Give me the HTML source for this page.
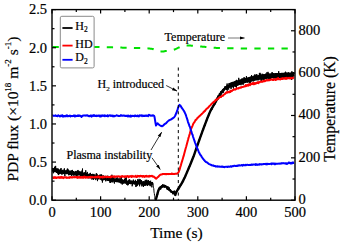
<!DOCTYPE html>
<html><head><meta charset="utf-8">
<style>
html,body{margin:0;padding:0;background:#fff;}
body{width:342px;height:243px;overflow:hidden;}
svg{display:block;}
text{font-family:"Liberation Serif",serif;fill:#000;stroke:#000;stroke-width:0.2px;}
.tk{font-size:14.5px;}
.ax{font-size:15.5px;}
.an{font-size:12px;}
.lg{font-size:12px;}
</style></head>
<body>
<svg width="342" height="243" viewBox="0 0 342 243">
<rect x="0" y="0" width="342" height="243" fill="#fff"/>
<defs>
<marker id="ah" viewBox="0 0 10 10" refX="9" refY="5" markerWidth="5.5" markerHeight="5.5" orient="auto-start-reverse" markerUnits="userSpaceOnUse">
<path d="M0,2.2 L10,5 L0,7.8 Z" fill="#000"/>
</marker>
<clipPath id="pc"><rect x="52.0" y="9.6" width="243.0" height="190.6"/></clipPath>
</defs>
<g clip-path="url(#pc)">
<polyline points="52.50,47.10 53.50,47.10 54.50,47.10 55.50,47.09 56.50,47.09 57.50,47.09 58.50,47.09 59.50,47.08 60.50,47.08 61.50,47.08 62.50,47.08 63.50,47.07 64.50,47.07 65.50,47.07 66.50,47.07 67.50,47.06 68.50,47.06 69.50,47.06 70.50,47.06 71.50,47.06 72.50,47.05 73.50,47.05 74.50,47.05 75.50,47.05 76.50,47.04 77.50,47.04 78.50,47.04 79.50,47.04 80.50,47.03 81.50,47.03 82.50,47.03 83.50,47.03 84.50,47.02 85.50,47.02 86.50,47.02 87.50,47.02 88.50,47.02 89.50,47.01 90.50,47.01 91.50,47.01 92.50,47.01 93.50,47.00 94.50,47.00 95.50,47.01 96.50,47.03 97.50,47.05 98.50,47.07 99.50,47.09 100.50,47.11 101.50,47.13 102.50,47.15 103.50,47.17 104.50,47.19 105.50,47.21 106.50,47.23 107.50,47.25 108.50,47.27 109.50,47.29 110.50,47.31 111.50,47.34 112.50,47.37 113.50,47.39 114.50,47.42 115.50,47.45 116.50,47.47 117.50,47.50 118.50,47.53 119.50,47.55 120.50,47.58 121.50,47.61 122.50,47.63 123.50,47.66 124.50,47.69 125.50,47.71 126.50,47.73 127.50,47.75 128.50,47.77 129.50,47.79 130.50,47.81 131.50,47.83 132.50,47.85 133.50,47.87 134.50,47.89 135.50,47.91 136.50,47.93 137.50,47.95 138.50,47.97 139.50,47.99 140.50,48.01 141.50,48.02 142.50,48.04 143.50,48.06 144.50,48.08 145.50,48.09 146.50,48.16 147.50,48.29 148.50,48.42 149.50,48.55 150.50,48.68 151.50,48.81 152.50,48.94 153.50,49.23 154.50,49.70 155.50,50.17 156.50,50.60 157.50,51.00 158.50,51.40 159.50,51.59 160.50,51.56 161.50,51.54 162.50,51.51 163.50,51.41 164.50,51.23 165.50,51.05 166.50,50.89 167.50,50.87 168.50,50.84 169.50,50.81 170.50,50.68 171.50,50.44 172.50,50.19 173.50,49.91 174.50,49.48 175.50,49.05 176.50,48.62 177.50,48.16 178.50,47.69 179.50,47.22 180.50,46.77 181.50,46.46 182.50,46.16 183.50,45.85 184.50,45.64 185.50,45.52 186.50,45.40 187.50,45.45 188.50,45.50 189.50,45.55 190.50,45.60 191.50,45.65 192.50,45.70 193.50,45.79 194.50,45.88 195.50,45.97 196.50,46.07 197.50,46.16 198.50,46.26 199.50,46.35 200.50,46.45 201.50,46.55 202.50,46.65 203.50,46.75 204.50,46.85 205.50,46.95 206.50,47.05 207.50,47.15 208.50,47.25 209.50,47.35 210.50,47.45 211.50,47.55 212.50,47.65 213.50,47.75 214.50,47.82 215.50,47.85 216.50,47.88 217.50,47.92 218.50,47.95 219.50,47.98 220.50,48.01 221.50,48.03 222.50,48.05 223.50,48.07 224.50,48.09 225.50,48.11 226.50,48.13 227.50,48.15 228.50,48.17 229.50,48.19 230.50,48.21 231.50,48.23 232.50,48.25 233.50,48.27 234.50,48.29 235.50,48.31 236.50,48.33 237.50,48.35 238.50,48.37 239.50,48.39 240.50,48.40 241.50,48.41 242.50,48.41 243.50,48.42 244.50,48.42 245.50,48.43 246.50,48.43 247.50,48.44 248.50,48.44 249.50,48.45 250.50,48.45 251.50,48.46 252.50,48.46 253.50,48.47 254.50,48.47 255.50,48.48 256.50,48.48 257.50,48.49 258.50,48.49 259.50,48.50 260.50,48.50 261.50,48.50 262.50,48.50 263.50,48.50 264.50,48.50 265.50,48.50 266.50,48.50 267.50,48.50 268.50,48.50 269.50,48.50 270.50,48.50 271.50,48.50 272.50,48.50 273.50,48.50 274.50,48.50 275.50,48.50 276.50,48.50 277.50,48.50 278.50,48.50 279.50,48.50 280.50,48.50 281.50,48.50 282.50,48.50 283.50,48.50 284.50,48.50 285.50,48.50 286.50,48.50 287.50,48.50 288.50,48.50 289.50,48.50 290.50,48.50 291.50,48.50 292.50,48.50 293.50,48.50" fill="none" stroke="#00e000" stroke-width="2.0" stroke-linejoin="round" stroke-dasharray="6.3 7.27"/>
<polyline points="52.50,170.20 53.50,170.39 54.50,170.57 55.50,170.76 56.50,170.95 57.50,171.13 58.50,171.32 59.50,171.51 60.50,171.66 61.50,171.78 62.50,171.90 63.50,172.02 64.50,172.14 65.50,172.26 66.50,172.38 67.50,172.50 68.50,172.62 69.50,172.74 70.50,172.86 71.50,172.98 72.50,173.10 73.50,173.22 74.50,173.34 75.50,173.46 76.50,173.58 77.50,173.70 78.50,173.82 79.50,173.94 80.50,174.08 81.50,174.25 82.50,174.42 83.50,174.58 84.50,174.75 85.50,174.92 86.50,175.08 87.50,175.25 88.50,175.42 89.50,175.58 90.50,175.75 91.50,175.92 92.50,176.10 93.50,176.29 94.50,176.48 95.50,176.67 96.50,176.86 97.50,177.05 98.50,177.25 99.50,177.44 100.50,177.63 101.50,177.82 102.50,178.01 103.50,178.20 104.50,178.39 105.50,178.58 106.50,178.76 107.50,178.94 108.50,179.12 109.50,179.31 110.50,179.49 111.50,179.68 112.50,179.86 113.50,180.04 114.50,180.22 115.50,180.41 116.50,180.58 117.50,180.75 118.50,180.92 119.50,181.08 120.50,181.25 121.50,181.42 122.50,181.54 123.50,181.63 124.50,181.71 125.50,181.80 126.50,181.88 127.50,181.97 128.50,182.05 129.50,182.13 130.50,182.22 131.50,182.30 132.50,182.39 133.50,182.47 134.50,182.56 135.50,182.63 136.50,182.69 137.50,182.74 138.50,182.80 139.50,182.86 140.50,182.91 141.50,182.97 142.50,183.03 143.50,183.09 144.50,183.14 145.50,183.20 146.50,183.26 147.50,183.31 148.50,183.37" fill="none" stroke="#000000" stroke-width="3.2" stroke-linejoin="round" stroke-linecap="butt"/>
<polyline points="229.50,85.80 230.50,85.32 231.50,84.84 232.50,84.44 233.50,84.12 234.50,83.80 235.50,83.48 236.50,83.16 237.50,82.84 238.50,82.52 239.50,82.20 240.50,81.88 241.50,81.56 242.50,81.26 243.50,80.98 244.50,80.70 245.50,80.42 246.50,80.14 247.50,79.89 248.50,79.67 249.50,79.45 250.50,79.23 251.50,79.01 252.50,78.79 253.50,78.57 254.50,78.35 255.50,78.13 256.50,77.91 257.50,77.72 258.50,77.56 259.50,77.40 260.50,77.24 261.50,77.08 262.50,76.93 263.50,76.79 264.50,76.65 265.50,76.51 266.50,76.37 267.50,76.25 268.50,76.15 269.50,76.05 270.50,75.95 271.50,75.85 272.50,75.77 273.50,75.72 274.50,75.67 275.50,75.62 276.50,75.58 277.50,75.53 278.50,75.48 279.50,75.43 280.50,75.39 281.50,75.36 282.50,75.33 283.50,75.30 284.50,75.27 285.50,75.24 286.50,75.21 287.50,75.19 288.50,75.16 289.50,75.13 290.50,75.10 291.50,75.07 292.50,75.04 293.50,75.01" fill="none" stroke="#000000" stroke-width="5.0" stroke-linejoin="round" stroke-linecap="butt"/>
<polyline points="155.30,199.50 155.80,199.14 156.30,197.95 156.80,196.20 157.30,194.30 157.80,192.30 158.30,190.81 158.80,189.65 159.30,188.50 159.80,188.07 160.30,187.65 160.80,187.23 161.30,186.80 161.80,186.61 162.30,186.42 162.80,186.23 163.30,186.04 163.80,186.06 164.30,186.13 164.80,186.20 165.30,186.27 165.80,186.53 166.30,186.90 166.80,187.28 167.30,187.65 167.80,188.11 168.30,188.64 168.80,189.16 169.30,189.69 169.80,190.18 170.30,190.63 170.80,191.08 171.30,191.53 171.80,191.87 172.30,192.05 172.80,192.23 173.30,192.42 173.80,192.61 174.30,192.80 174.80,193.90 175.30,195.00 175.80,193.21 176.30,192.02 176.80,191.22 177.30,190.43 177.80,189.63 178.30,188.83 178.80,188.04 179.30,187.24 179.80,186.43 180.30,185.63 180.80,184.82 181.30,184.01 181.80,183.21 182.30,182.40 182.80,181.38 183.30,180.36 183.80,179.34 184.30,178.33 184.80,177.31 185.30,176.20 185.80,175.04 186.30,173.88 186.80,172.72 187.30,171.56 187.80,170.40 188.30,169.21 188.80,168.02 189.30,166.83 189.80,165.64 190.30,164.45 190.80,163.25 191.30,162.00 191.80,160.75 192.30,159.50 192.80,158.25 193.30,157.00 193.80,155.71 194.30,154.27 194.80,152.83 195.30,151.38 195.80,149.94 196.30,148.50 196.80,147.08 197.30,145.66 197.80,144.24 198.30,142.82 198.80,141.41 199.30,139.99 199.80,138.57 200.30,137.18 200.80,135.81 201.30,134.44 201.80,133.07 202.30,131.71 202.80,130.34 203.30,128.97 203.80,127.60 204.30,126.28 204.80,124.97 205.30,123.65 205.80,122.34 206.30,121.02 206.80,119.71 207.30,118.39 207.80,117.13 208.30,115.94 208.80,114.76 209.30,113.58 209.80,112.39 210.30,111.21 210.80,110.16 211.30,109.30 211.80,108.45 212.30,107.60 212.80,106.74 213.30,105.89 213.80,105.04 214.30,104.18 214.80,103.32 215.30,102.41 215.80,101.50 216.30,100.59 216.80,99.68 217.30,98.77 217.80,97.86 218.30,97.05 218.80,96.30 219.30,95.55 219.80,94.80 220.30,94.05 220.80,93.33 221.30,92.64 221.80,91.96 222.30,91.27 222.80,90.70 223.30,90.20 223.80,89.70 224.30,89.20 224.80,88.70 225.30,88.32 225.80,88.02 226.30,87.72 226.80,87.42 227.30,87.12 227.80,86.82 228.30,86.52 228.80,86.22 229.30,85.92 229.80,85.66 230.30,85.42 230.80,85.18 231.30,84.94 231.80,84.70" fill="none" stroke="#000000" stroke-width="2.4" stroke-linejoin="round" />
<polyline points="52.50,170.20 52.62,170.89 52.74,169.63 52.86,168.30 52.98,169.29 53.10,168.14 53.22,170.47 53.34,173.26 53.46,169.32 53.58,169.07 53.70,171.47 53.82,171.20 53.94,170.69 54.06,168.54 54.18,170.45 54.30,171.98 54.42,167.79 54.54,169.64 54.66,166.74 54.78,168.02 54.90,166.95 55.02,170.20 55.14,168.18 55.26,171.25 55.38,171.05 55.50,170.40 55.62,165.90 55.74,169.77 55.86,170.73 55.98,171.07 56.10,167.97 56.22,169.99 56.34,169.06 56.46,169.41 56.58,172.97 56.70,169.45 56.82,170.94 56.94,172.70 57.06,169.95 57.18,170.86 57.30,171.30 57.42,171.24 57.54,168.83 57.66,171.31 57.78,173.75 57.90,168.29 58.02,172.85 58.14,171.48 58.26,170.07 58.38,175.06 58.50,172.75 58.62,169.09 58.74,171.50 58.86,172.47 58.98,171.05 59.10,172.71 59.22,171.33 59.34,172.73 59.46,174.20 59.58,170.26 59.70,171.92 59.82,170.70 59.94,171.83 60.06,169.39 60.18,170.54 60.30,171.27 60.42,173.33 60.54,173.80 60.66,169.21 60.78,170.21 60.90,172.91 61.02,168.01 61.14,170.87 61.26,171.57 61.38,174.11 61.50,173.06 61.62,171.19 61.74,171.12 61.86,171.36 61.98,174.67 62.10,171.06 62.22,171.30 62.34,172.53 62.46,171.67 62.58,171.54 62.70,169.86 62.82,171.92 62.94,171.13 63.06,174.12 63.18,173.19 63.30,171.95 63.42,173.24 63.54,171.40 63.66,173.98 63.78,172.04 63.90,173.14 64.02,169.70 64.14,172.74 64.26,169.00 64.38,168.38 64.50,171.58 64.62,170.50 64.74,172.47 64.86,176.31 64.98,170.67 65.10,171.07 65.22,172.60 65.34,173.14 65.46,171.93 65.58,171.89 65.70,173.57 65.82,173.25 65.94,170.42 66.06,172.18 66.18,172.41 66.30,170.43 66.42,172.84 66.54,170.82 66.66,174.17 66.78,172.76 66.90,172.59 67.02,171.37 67.14,172.24 67.26,168.84 67.38,170.43 67.50,173.16 67.62,168.65 67.74,174.07 67.86,169.37 67.98,173.93 68.10,171.04 68.22,174.00 68.34,172.84 68.46,169.83 68.58,174.89 68.70,175.25 68.82,172.54 68.94,172.18 69.06,172.40 69.18,170.94 69.30,174.70 69.42,171.75 69.54,172.65 69.66,171.33 69.78,171.65 69.90,170.49 70.02,175.07 70.14,172.54 70.26,174.57 70.38,172.87 70.50,171.61 70.62,172.29 70.74,171.88 70.86,172.92 70.98,172.24 71.10,172.39 71.22,170.46 71.34,171.51 71.46,175.95 71.58,171.78 71.70,171.11 71.82,173.63 71.94,175.57 72.06,170.43 72.18,172.69 72.30,171.94 72.42,169.92 72.54,174.43 72.66,173.08 72.78,173.26 72.90,171.79 73.02,173.98 73.14,172.21 73.26,172.93 73.38,171.21 73.50,171.03 73.62,175.64 73.74,172.34 73.86,173.79 73.98,173.22 74.10,172.50 74.22,172.39 74.34,174.45 74.46,172.79 74.58,173.08 74.70,173.40 74.82,175.50 74.94,174.62 75.06,174.10 75.18,172.41 75.30,170.95 75.42,175.16 75.54,175.20 75.66,173.23 75.78,174.47 75.90,174.91 76.02,175.02 76.14,175.20 76.26,172.73 76.38,176.29 76.50,171.34 76.62,175.15 76.74,174.50 76.86,175.20 76.98,177.02 77.10,176.32 77.22,171.61 77.34,170.64 77.46,175.17 77.58,171.88 77.70,173.70 77.82,175.25 77.94,170.79 78.06,169.97 78.18,174.25 78.30,173.88 78.42,173.37 78.54,173.89 78.66,172.29 78.78,171.13 78.90,173.57 79.02,172.13 79.14,170.94 79.26,174.82 79.38,173.82 79.50,174.67 79.62,172.17 79.74,172.78 79.86,172.18 79.98,172.40 80.10,174.37 80.22,172.63 80.34,174.70 80.46,174.69 80.58,177.74 80.70,171.61 80.82,175.73 80.94,174.00 81.06,174.15 81.18,171.59 81.30,173.39 81.42,175.57 81.54,174.11 81.66,174.42 81.78,173.77 81.90,176.39 82.02,174.30 82.14,170.40 82.26,173.13 82.38,170.85 82.50,168.56 82.62,173.48 82.74,176.86 82.86,174.56 82.98,172.39 83.10,172.82 83.22,176.57 83.34,174.84 83.46,174.66 83.58,174.50 83.70,174.69 83.82,176.09 83.94,175.65 84.06,175.06 84.18,172.82 84.30,175.64 84.42,173.51 84.54,176.73 84.66,172.49 84.78,174.55 84.90,174.80 85.02,172.45 85.14,177.96 85.26,177.51 85.38,174.06 85.50,176.31 85.62,175.62 85.74,170.25 85.86,175.43 85.98,174.89 86.10,175.17 86.22,173.10 86.34,174.57 86.46,174.76 86.58,177.24 86.70,175.72 86.82,175.13 86.94,177.91 87.06,174.18 87.18,174.50 87.30,171.95 87.42,178.06 87.54,176.99 87.66,176.93 87.78,176.50 87.90,175.51 88.02,175.72 88.14,174.90 88.26,175.01 88.38,175.49 88.50,178.14 88.62,176.44 88.74,175.35 88.86,174.43 88.98,174.35 89.10,178.40 89.22,176.45 89.34,175.68 89.46,174.95 89.58,173.60 89.70,175.50 89.82,177.21 89.94,174.95 90.06,175.27 90.18,175.30 90.30,175.91 90.42,172.87 90.54,175.33 90.66,174.24 90.78,177.39 90.90,174.43 91.02,176.88 91.14,178.60 91.26,175.31 91.38,174.81 91.50,176.26 91.62,175.93 91.74,174.17 91.86,176.81 91.98,179.62 92.10,175.55 92.22,175.68 92.34,174.18 92.46,176.66 92.58,173.87 92.70,174.14 92.82,178.46 92.94,174.55 93.06,178.15 93.18,178.97 93.30,176.72 93.42,177.27 93.54,179.81 93.66,175.96 93.78,175.27 93.90,173.93 94.02,176.46 94.14,179.07 94.26,178.16 94.38,174.76 94.50,174.94 94.62,175.59 94.74,177.05 94.86,176.18 94.98,176.96 95.10,177.13 95.22,176.08 95.34,176.57 95.46,177.04 95.58,176.54 95.70,177.62 95.82,180.10 95.94,177.82 96.06,176.88 96.18,173.77 96.30,177.52 96.42,173.34 96.54,174.33 96.66,178.43 96.78,178.19 96.90,176.67 97.02,173.88 97.14,176.32 97.26,175.79 97.38,178.18 97.50,181.12 97.62,177.47 97.74,175.70 97.86,175.02 97.98,177.05 98.10,176.85 98.22,175.12 98.34,177.42 98.46,175.17 98.58,179.26 98.70,179.20 98.82,179.26 98.94,176.48 99.06,178.28 99.18,177.14 99.30,176.70 99.42,176.81 99.54,175.11 99.66,174.87 99.78,178.92 99.90,177.17 100.02,177.93 100.14,179.36 100.26,174.46 100.38,176.20 100.50,177.94 100.62,178.36 100.74,177.00 100.86,179.55 100.98,178.10 101.10,175.56 101.22,176.09 101.34,179.24 101.46,178.65 101.58,174.42 101.70,180.28 101.82,178.96 101.94,180.32 102.06,177.24 102.18,177.42 102.30,175.95 102.42,182.55 102.54,177.71 102.66,180.89 102.78,176.90 102.90,178.38 103.02,175.11 103.14,177.45 103.26,179.92 103.38,175.94 103.50,180.13 103.62,178.83 103.74,176.38 103.86,177.37 103.98,177.47 104.10,178.23 104.22,177.38 104.34,176.88 104.46,177.84 104.58,176.57 104.70,176.12 104.82,178.36 104.94,180.05 105.06,175.76 105.18,178.52 105.30,177.38 105.42,176.81 105.54,180.11 105.66,177.68 105.78,181.31 105.90,177.25 106.02,179.36 106.14,178.29 106.26,177.37 106.38,179.79 106.50,178.48 106.62,179.86 106.74,178.72 106.86,176.88 106.98,178.66 107.10,178.96 107.22,180.60 107.34,177.29 107.46,178.86 107.58,175.88 107.70,180.14 107.82,177.07 107.94,175.80 108.06,178.94 108.18,181.04 108.30,176.37 108.42,177.17 108.54,177.81 108.66,177.14 108.78,179.85 108.90,177.76 109.02,177.93 109.14,180.28 109.26,177.92 109.38,180.06 109.50,177.58 109.62,177.17 109.74,176.08 109.86,182.69 109.98,178.83 110.10,179.85 110.22,179.39 110.34,179.75 110.46,179.57 110.58,182.90 110.70,177.68 110.82,176.78 110.94,177.77 111.06,177.22 111.18,180.94 111.30,181.10 111.42,177.95 111.54,177.21 111.66,179.07 111.78,182.20 111.90,174.74 112.02,180.71 112.14,177.88 112.26,181.66 112.38,177.92 112.50,179.35 112.62,177.21 112.74,178.17 112.86,182.38 112.98,181.40 113.10,179.26 113.22,178.45 113.34,176.65 113.46,179.34 113.58,180.00 113.70,179.93 113.82,179.93 113.94,178.13 114.06,180.03 114.18,180.10 114.30,182.47 114.42,183.52 114.54,179.99 114.66,178.90 114.78,180.16 114.90,179.22 115.02,179.01 115.14,180.24 115.26,178.52 115.38,181.46 115.50,180.22 115.62,180.87 115.74,180.13 115.86,179.19 115.98,178.82 116.10,180.10 116.22,179.57 116.34,180.97 116.46,180.57 116.58,178.19 116.70,180.74 116.82,178.26 116.94,179.57 117.06,180.16 117.18,177.03 117.30,180.88 117.42,181.00 117.54,180.48 117.66,180.03 117.78,180.14 117.90,179.09 118.02,180.36 118.14,179.88 118.26,181.04 118.38,178.77 118.50,181.33 118.62,181.19 118.74,180.71 118.86,180.20 118.98,181.97 119.10,178.08 119.22,181.85 119.34,181.48 119.46,181.58 119.58,181.77 119.70,179.97 119.82,180.68 119.94,182.28 120.06,181.93 120.18,181.56 120.30,178.55 120.42,182.18 120.54,183.31 120.66,183.05 120.78,181.71 120.90,178.58 121.02,182.99 121.14,181.10 121.26,176.93 121.38,182.06 121.50,178.79 121.62,179.16 121.74,180.34 121.86,183.71 121.98,180.85 122.10,181.98 122.22,184.59 122.34,184.33 122.46,181.36 122.58,181.13 122.70,179.35 122.82,180.35 122.94,182.33 123.06,182.28 123.18,181.79 123.30,183.35 123.42,180.27 123.54,181.53 123.66,182.92 123.78,182.67 123.90,183.54 124.02,182.37 124.14,181.14 124.26,182.33 124.38,179.95 124.50,178.84 124.62,182.74 124.74,181.64 124.86,182.28 124.98,178.78 125.10,181.12 125.22,180.72 125.34,180.27 125.46,177.85 125.58,181.22 125.70,183.38 125.82,182.49 125.94,180.78 126.06,181.82 126.18,183.18 126.30,177.04 126.42,181.66 126.54,182.83 126.66,183.09 126.78,184.87 126.90,183.90 127.02,182.47 127.14,182.46 127.26,183.32 127.38,181.01 127.50,181.90 127.62,183.56 127.74,185.40 127.86,181.72 127.98,181.92 128.10,182.36 128.22,184.37 128.34,181.98 128.46,184.61 128.58,180.37 128.70,181.74 128.82,181.73 128.94,183.46 129.06,183.92 129.18,179.48 129.30,180.52 129.42,182.71 129.54,180.99 129.66,179.50 129.78,183.97 129.90,183.03 130.02,183.04 130.14,181.36 130.26,183.99 130.38,181.79 130.50,184.13 130.62,180.64 130.74,180.75 130.86,182.61 130.98,181.04 131.10,183.44 131.22,182.73 131.34,180.69 131.46,182.43 131.58,181.70 131.70,183.91 131.82,181.23 131.94,181.58 132.06,184.45 132.18,186.25 132.30,185.84 132.42,182.49 132.54,182.77 132.66,185.06 132.78,182.20 132.90,180.73 133.02,182.64 133.14,183.23 133.26,181.02 133.38,179.61 133.50,179.98 133.62,183.64 133.74,181.18 133.86,182.26 133.98,182.88 134.10,183.60 134.22,181.95 134.34,183.41 134.46,181.01 134.58,181.94 134.70,180.80 134.82,184.54 134.94,182.55 135.06,181.32 135.18,182.00 135.30,182.23 135.42,183.84 135.54,179.87 135.66,180.84 135.78,181.99 135.90,187.03 136.02,184.31 136.14,182.47 136.26,183.90 136.38,186.23 136.50,182.28 136.62,182.06 136.74,184.79 136.86,183.56 136.98,183.87 137.10,181.84 137.22,186.05 137.34,185.68 137.46,183.72 137.58,183.93 137.70,179.26 137.82,183.86 137.94,182.43 138.06,183.52 138.18,183.96 138.30,182.20 138.42,179.88 138.54,183.44 138.66,181.53 138.78,182.25 138.90,181.78 139.02,182.24 139.14,178.86 139.26,184.94 139.38,183.29 139.50,184.77 139.62,186.27 139.74,182.91 139.86,179.78 139.98,181.35 140.10,180.82 140.22,182.04 140.34,183.04 140.46,179.47 140.58,183.51 140.70,180.33 140.82,183.44 140.94,182.75 141.06,182.41 141.18,182.83 141.30,182.03 141.42,181.92 141.54,180.08 141.66,182.93 141.78,186.16 141.90,186.39 142.02,185.27 142.14,184.22 142.26,181.85 142.38,185.50 142.50,182.93 142.62,182.92 142.74,182.54 142.86,183.21 142.98,182.31 143.10,182.92 143.22,181.21 143.34,182.44 143.46,186.99 143.58,182.97 143.70,182.69 143.82,184.02 143.94,184.32 144.06,181.21 144.18,182.77 144.30,184.70 144.42,183.60 144.54,183.35 144.66,185.81 144.78,182.00 144.90,183.31 145.02,182.28 145.14,185.73 145.26,179.85 145.38,182.05 145.50,182.30 145.62,184.34 145.74,184.25 145.86,185.60 145.98,180.54 146.10,184.52 146.22,182.74 146.34,182.11 146.46,184.18 146.58,181.69 146.70,179.72 146.82,182.64 146.94,180.73 147.06,182.18 147.18,183.93 147.30,183.83 147.42,186.02 147.54,182.98 147.66,180.71 147.78,182.04 147.90,181.77 148.02,181.27 148.14,184.09 148.26,182.26 148.38,180.00 148.50,184.56 148.62,183.19 148.74,183.99 148.86,183.57 148.98,184.47 149.10,183.47 149.22,185.52 149.34,184.14 149.46,184.09 149.58,184.13 149.70,180.96 149.82,183.16 149.94,183.01 150.06,183.81 150.18,181.18 150.30,186.19 150.42,183.65 150.54,181.50 150.66,180.72 150.78,183.04 150.90,183.36 151.02,182.37 151.14,183.66 151.26,182.53 151.38,184.37 151.50,182.43 151.62,183.48 151.74,185.00 151.86,187.35 151.98,182.08 152.10,182.89 152.22,182.37 152.34,184.69 152.46,181.97 152.58,182.98 152.70,183.56 152.82,182.90 152.94,183.79 153.06,184.79 153.18,184.60 153.30,185.58 153.42,186.79 153.54,187.75 153.66,188.37 153.78,188.41 153.90,190.13 154.02,191.84 154.14,192.66 154.26,193.23 154.38,193.67 154.50,195.61 154.62,195.72 154.74,195.91 154.86,196.75 154.98,198.91 155.10,198.66 155.22,199.94 155.34,199.12 155.46,200.09 155.58,198.84 155.70,199.09 155.82,201.07 155.94,199.65 156.06,198.39 156.18,198.30 156.30,198.22 156.42,198.55 156.54,196.69 156.66,195.18 156.78,196.02 156.90,195.86 157.02,195.52 157.14,196.14 157.26,194.75 157.38,194.74 157.50,192.45 157.62,193.85 157.74,194.58 157.86,192.82 157.98,191.83 158.10,191.42 158.22,192.78 158.34,189.79 158.46,190.33 158.58,190.62 158.70,190.63 158.82,189.17 158.94,189.64 159.06,188.78 159.18,188.90 159.30,188.37 159.42,187.26 159.54,188.27 159.66,189.07 159.78,187.12 159.90,187.75 160.02,188.55 160.14,186.72 160.26,187.87 160.38,186.52 160.50,188.61 160.62,189.69 160.74,189.30 160.86,186.95 160.98,187.81 161.10,187.09 161.22,186.97 161.34,188.33 161.46,185.42 161.58,187.75 161.70,186.60 161.82,188.01 161.94,186.74 162.06,185.84 162.18,186.74 162.30,187.16 162.42,186.41 162.54,186.82 162.66,185.76 162.78,184.10 162.90,187.09 163.02,186.84 163.14,186.25 163.26,186.12 163.38,187.04 163.50,185.56 163.62,185.32 163.74,185.86 163.86,187.25 163.98,184.70 164.10,187.29 164.22,185.48 164.34,185.03 164.46,187.41 164.58,186.07 164.70,184.89 164.82,185.84 164.94,187.15 165.06,187.43 165.18,185.83 165.30,186.68 165.42,187.00 165.54,185.69 165.66,186.78 165.78,186.48 165.90,186.06 166.02,186.20 166.14,186.85 166.26,186.90 166.38,186.39 166.50,186.62 166.62,188.25 166.74,187.44 166.86,188.21 166.98,188.61 167.10,188.09 167.22,189.86 167.34,186.85 167.46,188.58 167.58,187.57 167.70,189.87 167.82,189.84 167.94,186.31 168.06,187.42 168.18,189.18 168.30,189.43 168.42,189.50 168.54,188.82 168.66,189.47 168.78,189.79 168.90,189.19 169.02,190.42 169.14,187.26 169.26,190.28 169.38,188.74 169.50,190.85 169.62,189.79 169.74,189.24 169.86,190.61 169.98,189.43 170.10,189.54 170.22,188.99 170.34,190.64 170.46,191.27 170.58,191.91 170.70,190.85 170.82,192.15 170.94,191.22 171.06,191.22 171.18,192.00 171.30,192.59 171.42,191.30 171.54,191.50 171.66,191.66 171.78,191.95 171.90,191.01 172.02,192.98 172.14,191.59 172.26,192.50 172.38,191.25 172.50,192.48 172.62,192.56 172.74,191.79 172.86,194.27 172.98,192.66 173.10,194.12 173.22,193.34 173.34,191.77 173.46,192.09 173.58,192.96 173.70,192.63 173.82,192.66 173.94,192.38 174.06,190.90 174.18,192.53 174.30,190.58 174.42,193.44 174.54,192.60 174.66,192.88 174.78,193.64 174.90,194.39 175.02,192.95 175.14,192.90 175.26,193.85 175.38,192.67 175.50,193.32 175.62,195.45 175.74,192.37 175.86,193.65 175.98,191.20 176.10,192.64 176.22,191.84 176.34,191.90 176.46,192.30 176.58,193.20 176.70,191.56 176.82,191.30 176.94,190.14 177.06,191.32 177.18,190.41 177.30,191.12 177.42,190.20 177.54,191.45 177.66,188.28 177.78,189.43 177.90,190.14 178.02,189.02 178.14,188.51 178.26,188.71 178.38,187.74 178.50,188.60 178.62,189.97 178.74,188.89 178.86,187.23 178.98,187.20 179.10,187.31 179.22,187.97 179.34,186.70 179.46,186.59 179.58,187.28 179.70,187.06 179.82,186.20 179.94,185.64 180.06,185.24 180.18,185.47 180.30,184.51 180.42,185.81 180.54,184.92 180.66,185.29 180.78,185.79 180.90,185.24 181.02,183.89 181.14,184.71 181.26,184.66 181.38,183.51 181.50,183.21 181.62,183.44 181.74,182.50 181.86,183.85 181.98,181.71 182.10,182.17 182.22,182.39 182.34,182.20 182.46,182.16 182.58,181.97 182.70,181.48 182.82,181.91 182.94,180.03 183.06,180.85 183.18,180.25 183.30,180.43 183.42,180.23 183.54,179.42 183.66,179.31 183.78,179.78 183.90,179.32 184.02,178.56 184.14,179.67 184.26,179.56 184.38,177.43 184.50,178.07 184.62,178.93 184.74,177.82 184.86,177.30 184.98,176.84 185.10,176.40 185.22,176.28 185.34,175.84 185.46,176.20 185.58,175.35 185.70,175.05 185.82,174.40 185.94,174.69 186.06,173.99 186.18,174.07 186.30,174.40 186.42,173.79 186.54,173.58 186.66,173.22 186.78,172.80 186.90,172.43 187.02,172.06 187.14,172.31 187.26,171.11 187.38,172.05 187.50,171.11 187.62,170.44 187.74,170.29 187.86,169.92 187.98,170.05 188.10,169.33 188.22,169.97 188.34,168.72 188.46,167.69 188.58,168.18 188.70,167.25 188.82,167.95 188.94,168.22 189.06,167.73 189.18,166.45 189.30,166.45 189.42,167.43 189.54,166.42 189.66,165.98 189.78,166.22 189.90,166.63 190.02,165.77 190.14,164.90 190.26,164.72 190.38,164.57 190.50,163.67 190.62,163.16 190.74,163.43 190.86,162.63 190.98,162.77 191.10,162.55 191.22,163.37 191.34,161.47 191.46,161.54 191.58,161.22 191.70,161.22 191.82,161.22 191.94,160.15 192.06,159.69 192.18,158.98 192.30,159.04 192.42,159.47 192.54,158.92 192.66,158.09 192.78,158.11 192.90,158.02 193.02,157.95 193.14,157.10 193.26,156.97 193.38,155.89 193.50,155.92 193.62,157.01 193.74,154.79 193.86,155.37 193.98,155.30 194.10,154.66 194.22,154.10 194.34,154.12 194.46,153.81 194.58,153.42 194.70,152.18 194.82,152.70 194.94,152.00 195.06,151.80 195.18,151.84 195.30,151.70 195.42,151.49 195.54,150.44 195.66,150.81 195.78,150.59 195.90,150.22 196.02,150.00 196.14,148.89 196.26,148.53 196.38,148.69 196.50,147.25 196.62,147.70 196.74,146.99 196.86,146.73 196.98,145.70 197.10,145.78 197.22,145.88 197.34,145.99 197.46,145.70 197.58,144.83 197.70,144.43 197.82,143.77 197.94,144.05 198.06,143.38 198.18,143.47 198.30,143.70 198.42,142.47 198.54,141.39 198.66,141.37 198.78,140.73 198.90,140.52 199.02,141.43 199.14,140.55 199.26,139.34 199.38,140.09 199.50,140.05 199.62,138.90 199.74,138.40 199.86,138.23 199.98,138.20 200.10,138.05 200.22,137.99 200.34,137.68 200.46,137.34 200.58,137.10 200.70,136.42 200.82,134.98 200.94,135.36 201.06,135.26 201.18,134.58 201.30,134.91 201.42,133.93 201.54,133.31 201.66,134.20 201.78,133.47 201.90,132.91 202.02,132.95 202.14,132.69 202.26,131.99 202.38,130.21 202.50,130.81 202.62,130.59 202.74,129.99 202.86,130.28 202.98,130.47 203.10,129.26 203.22,128.59 203.34,129.93 203.46,128.29 203.58,127.55 203.70,128.00 203.82,127.77 203.94,126.86 204.06,127.34 204.18,126.34 204.30,125.79 204.42,126.06 204.54,126.07 204.66,125.00 204.78,125.20 204.90,124.65 205.02,125.92 205.14,123.69 205.26,124.51 205.38,123.41 205.50,123.06 205.62,123.21 205.74,122.98 205.86,122.87 205.98,122.04 206.10,121.22 206.22,120.93 206.34,121.20 206.46,120.92 206.58,121.06 206.70,120.20 206.82,120.24 206.94,120.18 207.06,119.11 207.18,117.87 207.30,117.73 207.42,117.27 207.54,118.65 207.66,116.98 207.78,117.87 207.90,117.22 208.02,117.58 208.14,116.89 208.26,115.98 208.38,115.64 208.50,115.52 208.62,115.29 208.74,114.60 208.86,114.60 208.98,115.26 209.10,113.07 209.22,113.92 209.34,112.96 209.46,113.31 209.58,113.40 209.70,112.60 209.82,112.80 209.94,111.14 210.06,112.42 210.18,111.14 210.30,111.57 210.42,111.03 210.54,109.12 210.66,109.95 210.78,110.32 210.90,110.91 211.02,109.95 211.14,109.73 211.26,108.53 211.38,110.02 211.50,110.04 211.62,108.78 211.74,108.42 211.86,107.38 211.98,108.67 212.10,109.57 212.22,108.17 212.34,108.31 212.46,107.66 212.58,106.50 212.70,107.76 212.82,105.92 212.94,106.37 213.06,106.48 213.18,106.68 213.30,106.17 213.42,105.94 213.54,104.96 213.66,104.39 213.78,105.11 213.90,104.37 214.02,103.74 214.14,103.56 214.26,103.90 214.38,102.71 214.50,102.86 214.62,102.44 214.74,103.56 214.86,103.51 214.98,104.49 215.10,101.64 215.22,102.04 215.34,103.04 215.46,101.95 215.58,101.65 215.70,103.02 215.82,101.20 215.94,100.32 216.06,99.97 216.18,101.08 216.30,100.84 216.42,99.25 216.54,99.34 216.66,100.38 216.78,100.20 216.90,98.96 217.02,99.81 217.14,99.55 217.26,97.31 217.38,98.36 217.50,98.77 217.62,97.69 217.74,96.08 217.86,97.50 217.98,98.21 218.10,98.78 218.22,95.17 218.34,99.39 218.46,95.77 218.58,97.52 218.70,97.60 218.82,97.20 218.94,96.23 219.06,94.80 219.18,96.33 219.30,94.86 219.42,92.92 219.54,97.95 219.66,95.71 219.78,96.63 219.90,93.74 220.02,95.94 220.14,95.89 220.26,95.68 220.38,93.91 220.50,92.52 220.62,93.39 220.74,91.12 220.86,91.47 220.98,93.18 221.10,91.87 221.22,92.58 221.34,92.47 221.46,94.49 221.58,93.66 221.70,92.05 221.82,93.25 221.94,90.91 222.06,91.23 222.18,92.45 222.30,89.89 222.42,90.80 222.54,89.47 222.66,90.97 222.78,92.57 222.90,89.74 223.02,90.74 223.14,89.33 223.26,88.91 223.38,88.68 223.50,91.70 223.62,92.66 223.74,90.33 223.86,88.79 223.98,90.36 224.10,89.00 224.22,90.24 224.34,89.51 224.46,89.38 224.58,89.66 224.70,88.09 224.82,88.18 224.94,86.43 225.06,87.92 225.18,86.62 225.30,88.14 225.42,87.04 225.54,88.30 225.66,88.68 225.78,86.22 225.90,86.92 226.02,86.68 226.14,88.78 226.26,89.96 226.38,88.78 226.50,87.14 226.62,89.45 226.74,85.46 226.86,89.37 226.98,86.44 227.10,83.53 227.22,90.72 227.34,89.22 227.46,85.63 227.58,87.18 227.70,86.59 227.82,86.95 227.94,84.70 228.06,85.72 228.18,87.24 228.30,86.83 228.42,88.12 228.54,86.49 228.66,89.61 228.78,85.22 228.90,86.53 229.02,83.36 229.14,84.22 229.26,87.85 229.38,84.51 229.50,86.57 229.62,85.65 229.74,84.16 229.86,85.12 229.98,84.81 230.10,84.79 230.22,86.57 230.34,86.37 230.46,84.48 230.58,83.92 230.70,85.65 230.82,85.02 230.94,86.66 231.06,89.08 231.18,86.28 231.30,84.88 231.42,84.61 231.54,83.50 231.66,83.36 231.78,83.15 231.90,84.03 232.02,83.93 232.14,85.72 232.26,83.89 232.38,84.17 232.50,82.51 232.62,87.02 232.74,85.17 232.86,87.19 232.98,85.57 233.10,86.65 233.22,83.81 233.34,85.34 233.46,88.54 233.58,82.09 233.70,85.99 233.82,86.81 233.94,84.67 234.06,85.21 234.18,86.03 234.30,82.75 234.42,84.52 234.54,82.30 234.66,82.58 234.78,82.64 234.90,83.42 235.02,83.89 235.14,84.38 235.26,81.09 235.38,86.97 235.50,85.50 235.62,84.71 235.74,82.78 235.86,83.21 235.98,84.28 236.10,84.01 236.22,80.31 236.34,84.51 236.46,88.29 236.58,79.89 236.70,84.84 236.82,83.71 236.94,82.82 237.06,85.40 237.18,80.86 237.30,83.19 237.42,85.45 237.54,82.48 237.66,82.05 237.78,82.95 237.90,81.92 238.02,85.41 238.14,81.03 238.26,84.14 238.38,80.34 238.50,83.71 238.62,82.30 238.74,77.85 238.86,82.39 238.98,80.47 239.10,81.54 239.22,85.03 239.34,80.26 239.46,80.32 239.58,84.75 239.70,82.34 239.82,84.85 239.94,82.64 240.06,80.44 240.18,81.86 240.30,84.15 240.42,83.59 240.54,81.87 240.66,81.92 240.78,81.59 240.90,80.71 241.02,85.19 241.14,81.69 241.26,79.60 241.38,80.74 241.50,82.87 241.62,82.68 241.74,81.24 241.86,80.24 241.98,81.45 242.10,78.35 242.22,78.99 242.34,82.75 242.46,80.40 242.58,81.92 242.70,83.41 242.82,82.35 242.94,81.17 243.06,84.96 243.18,82.28 243.30,80.39 243.42,82.33 243.54,81.71 243.66,79.38 243.78,81.03 243.90,80.57 244.02,77.25 244.14,80.49 244.26,80.25 244.38,79.93 244.50,77.70 244.62,80.02 244.74,80.56 244.86,80.79 244.98,78.49 245.10,81.69 245.22,78.27 245.34,80.05 245.46,82.82 245.58,79.13 245.70,79.43 245.82,82.30 245.94,79.59 246.06,79.72 246.18,80.64 246.30,82.13 246.42,76.11 246.54,78.60 246.66,78.24 246.78,78.06 246.90,78.45 247.02,78.45 247.14,80.52 247.26,78.30 247.38,80.14 247.50,80.63 247.62,78.52 247.74,80.08 247.86,82.84 247.98,80.38 248.10,78.58 248.22,79.61 248.34,78.01 248.46,80.18 248.58,81.25 248.70,78.11 248.82,79.21 248.94,81.63 249.06,78.63 249.18,79.87 249.30,77.60 249.42,77.95 249.54,78.49 249.66,83.37 249.78,78.64 249.90,78.40 250.02,78.31 250.14,79.01 250.26,80.48 250.38,79.60 250.50,82.98 250.62,79.59 250.74,81.82 250.86,79.66 250.98,80.23 251.10,76.46 251.22,78.84 251.34,78.92 251.46,78.57 251.58,75.05 251.70,80.58 251.82,78.23 251.94,78.11 252.06,78.42 252.18,78.44 252.30,79.58 252.42,76.47 252.54,77.07 252.66,79.29 252.78,79.00 252.90,78.01 253.02,77.62 253.14,77.11 253.26,78.52 253.38,80.78 253.50,76.61 253.62,81.36 253.74,80.08 253.86,77.65 253.98,79.91 254.10,75.72 254.22,75.20 254.34,75.99 254.46,77.60 254.58,77.73 254.70,77.35 254.82,78.46 254.94,74.28 255.06,79.15 255.18,75.56 255.30,76.94 255.42,77.38 255.54,75.97 255.66,75.54 255.78,76.19 255.90,78.02 256.02,79.12 256.14,79.04 256.26,76.10 256.38,76.46 256.50,76.19 256.62,78.73 256.74,74.04 256.86,80.15 256.98,76.89 257.10,76.31 257.22,78.40 257.34,79.69 257.46,78.37 257.58,79.69 257.70,77.94 257.82,79.98 257.94,79.99 258.06,77.44 258.18,80.32 258.30,77.90 258.42,77.74 258.54,75.81 258.66,76.99 258.78,78.99 258.90,75.01 259.02,78.71 259.14,78.12 259.26,77.96 259.38,73.24 259.50,77.20 259.62,78.61 259.74,75.91 259.86,77.51 259.98,72.81 260.10,78.58 260.22,76.03 260.34,78.92 260.46,73.75 260.58,78.54 260.70,76.76 260.82,78.72 260.94,75.41 261.06,75.98 261.18,81.38 261.30,75.54 261.42,75.75 261.54,76.55 261.66,75.12 261.78,79.29 261.90,80.28 262.02,75.66 262.14,73.71 262.26,79.18 262.38,79.05 262.50,78.49 262.62,79.10 262.74,75.25 262.86,76.56 262.98,74.24 263.10,74.16 263.22,78.68 263.34,75.54 263.46,81.10 263.58,76.92 263.70,75.55 263.82,78.25 263.94,80.13 264.06,77.63 264.18,74.40 264.30,77.38 264.42,79.26 264.54,75.71 264.66,75.17 264.78,78.53 264.90,76.86 265.02,74.50 265.14,75.84 265.26,75.12 265.38,77.09 265.50,76.72 265.62,78.66 265.74,77.81 265.86,73.52 265.98,77.21 266.10,78.11 266.22,77.27 266.34,78.33 266.46,75.34 266.58,74.57 266.70,78.09 266.82,74.32 266.94,72.25 267.06,78.22 267.18,74.92 267.30,75.69 267.42,73.63 267.54,73.76 267.66,74.06 267.78,75.54 267.90,76.90 268.02,71.88 268.14,77.60 268.26,73.96 268.38,74.16 268.50,77.42 268.62,76.00 268.74,73.25 268.86,79.57 268.98,74.49 269.10,76.55 269.22,76.45 269.34,78.71 269.46,75.20 269.58,77.93 269.70,74.64 269.82,78.12 269.94,74.58 270.06,75.32 270.18,79.53 270.30,76.56 270.42,76.16 270.54,80.14 270.66,76.61 270.78,74.40 270.90,77.28 271.02,73.69 271.14,77.99 271.26,78.13 271.38,74.79 271.50,74.68 271.62,76.17 271.74,75.85 271.86,73.99 271.98,76.86 272.10,71.99 272.22,74.98 272.34,75.03 272.46,75.27 272.58,76.34 272.70,73.48 272.82,76.86 272.94,75.42 273.06,74.54 273.18,73.20 273.30,73.53 273.42,76.40 273.54,73.93 273.66,75.84 273.78,77.69 273.90,77.63 274.02,78.60 274.14,75.14 274.26,73.67 274.38,77.58 274.50,76.25 274.62,77.76 274.74,75.68 274.86,77.88 274.98,77.22 275.10,76.98 275.22,76.57 275.34,76.37 275.46,76.06 275.58,76.04 275.70,77.45 275.82,74.66 275.94,78.82 276.06,75.40 276.18,77.42 276.30,75.42 276.42,75.12 276.54,79.34 276.66,74.99 276.78,73.20 276.90,74.23 277.02,74.96 277.14,79.53 277.26,75.92 277.38,77.26 277.50,73.67 277.62,76.17 277.74,76.75 277.86,78.84 277.98,74.21 278.10,76.61 278.22,76.05 278.34,73.60 278.46,75.44 278.58,74.98 278.70,71.17 278.82,76.56 278.94,76.45 279.06,74.64 279.18,72.97 279.30,78.17 279.42,75.92 279.54,77.30 279.66,78.02 279.78,74.45 279.90,76.90 280.02,74.96 280.14,75.28 280.26,75.23 280.38,75.39 280.50,77.44 280.62,75.61 280.74,75.10 280.86,74.87 280.98,76.00 281.10,73.72 281.22,74.44 281.34,75.27 281.46,74.32 281.58,75.14 281.70,74.23 281.82,79.03 281.94,77.79 282.06,76.17 282.18,75.24 282.30,79.36 282.42,75.92 282.54,75.17 282.66,75.88 282.78,75.88 282.90,77.90 283.02,75.28 283.14,79.16 283.26,73.69 283.38,76.58 283.50,73.46 283.62,78.63 283.74,74.69 283.86,75.18 283.98,76.98 284.10,77.58 284.22,73.24 284.34,74.64 284.46,72.72 284.58,75.52 284.70,75.08 284.82,74.62 284.94,74.01 285.06,74.55 285.18,73.89 285.30,76.22 285.42,78.02 285.54,71.71 285.66,75.03 285.78,74.47 285.90,76.13 286.02,73.49 286.14,74.96 286.26,73.32 286.38,76.49 286.50,75.40 286.62,74.92 286.74,75.88 286.86,74.75 286.98,72.37 287.10,76.28 287.22,75.72 287.34,74.91 287.46,76.98 287.58,77.40 287.70,73.19 287.82,73.75 287.94,77.99 288.06,77.75 288.18,73.82 288.30,73.01 288.42,74.00 288.54,74.25 288.66,72.27 288.78,75.21 288.90,72.82 289.02,72.94 289.14,76.80 289.26,73.89 289.38,75.00 289.50,76.27 289.62,76.60 289.74,74.51 289.86,75.20 289.98,73.62 290.10,78.28 290.22,76.29 290.34,73.10 290.46,75.11 290.58,76.39 290.70,75.96 290.82,78.41 290.94,77.57 291.06,74.11 291.18,74.92 291.30,72.76 291.42,75.53 291.54,75.34 291.66,79.96 291.78,75.24 291.90,71.27 292.02,73.84 292.14,75.26 292.26,72.78 292.38,73.48 292.50,74.38 292.62,75.66 292.74,74.74 292.86,73.43 292.98,76.45 293.10,74.05 293.22,74.12 293.34,72.53 293.46,73.60 293.58,76.19 293.70,72.09 293.82,74.88 293.94,76.30" fill="none" stroke="#000000" stroke-width="1.0" stroke-linejoin="round" />
<polyline points="52.50,177.49 52.90,177.67 53.30,177.25 53.70,177.98 54.10,177.91 54.50,177.65 54.90,177.04 55.30,177.25 55.70,177.85 56.10,178.07 56.50,177.64 56.90,177.92 57.30,177.36 57.70,177.48 58.10,177.53 58.50,177.65 58.90,177.06 59.30,177.80 59.70,177.91 60.10,177.16 60.50,177.09 60.90,177.60 61.30,177.29 61.70,176.77 62.10,177.72 62.50,177.52 62.90,177.33 63.30,178.10 63.70,177.50 64.10,177.23 64.50,177.48 64.90,177.13 65.30,177.21 65.70,177.55 66.10,177.26 66.50,177.29 66.90,177.92 67.30,177.67 67.70,177.65 68.10,177.56 68.50,177.54 68.90,177.83 69.30,177.38 69.70,177.94 70.10,177.09 70.50,177.30 70.90,176.95 71.30,177.26 71.70,177.51 72.10,177.79 72.50,177.15 72.90,177.34 73.30,177.23 73.70,177.11 74.10,176.97 74.50,177.34 74.90,176.80 75.30,177.35 75.70,177.31 76.10,177.10 76.50,176.99 76.90,176.88 77.30,177.85 77.70,176.88 78.10,177.74 78.50,177.45 78.90,177.16 79.30,176.91 79.70,177.57 80.10,177.77 80.50,176.97 80.90,177.15 81.30,177.55 81.70,177.33 82.10,177.83 82.50,177.05 82.90,177.38 83.30,176.84 83.70,177.83 84.10,176.98 84.50,176.53 84.90,177.15 85.30,177.14 85.70,177.76 86.10,177.07 86.50,177.17 86.90,177.34 87.30,177.64 87.70,177.14 88.10,177.46 88.50,177.30 88.90,177.05 89.30,177.16 89.70,177.14 90.10,176.85 90.50,177.48 90.90,176.70 91.30,177.46 91.70,177.39 92.10,177.07 92.50,176.87 92.90,177.02 93.30,177.23 93.70,177.30 94.10,177.16 94.50,177.37 94.90,176.90 95.30,177.13 95.70,176.58 96.10,177.28 96.50,177.09 96.90,176.91 97.30,177.38 97.70,177.24 98.10,176.18 98.50,177.03 98.90,176.58 99.30,177.33 99.70,177.75 100.10,176.84 100.50,177.01 100.90,176.91 101.30,177.08 101.70,177.16 102.10,177.35 102.50,176.66 102.90,177.42 103.30,176.66 103.70,177.02 104.10,177.28 104.50,177.14 104.90,176.63 105.30,176.70 105.70,176.76 106.10,176.88 106.50,177.23 106.90,176.49 107.30,177.01 107.70,177.05 108.10,177.03 108.50,176.99 108.90,177.30 109.30,176.98 109.70,177.09 110.10,176.99 110.50,177.35 110.90,176.24 111.30,177.19 111.70,176.72 112.10,176.70 112.50,176.49 112.90,176.21 113.30,176.65 113.70,176.55 114.10,176.90 114.50,176.30 114.90,177.17 115.30,176.81 115.70,176.65 116.10,176.51 116.50,176.48 116.90,176.37 117.30,176.53 117.70,176.69 118.10,176.63 118.50,176.25 118.90,176.59 119.30,176.39 119.70,176.70 120.10,177.21 120.50,176.83 120.90,176.54 121.30,176.14 121.70,176.20 122.10,176.11 122.50,176.82 122.90,176.37 123.30,176.61 123.70,176.40 124.10,176.61 124.50,176.99 124.90,176.36 125.30,176.45 125.70,176.31 126.10,176.81 126.50,176.23 126.90,176.19 127.30,176.11 127.70,176.09 128.10,176.65 128.50,177.27 128.90,176.20 129.30,176.77 129.70,176.56 130.10,176.14 130.50,176.38 130.90,176.39 131.30,176.25 131.70,177.02 132.10,175.87 132.50,176.55 132.90,176.52 133.30,176.24 133.70,176.46 134.10,176.67 134.50,176.44 134.90,176.51 135.30,176.59 135.70,175.77 136.10,176.81 136.50,177.04 136.90,176.65 137.30,176.65 137.70,175.92 138.10,176.30 138.50,176.08 138.90,176.14 139.30,176.60 139.70,176.06 140.10,176.26 140.50,175.72 140.90,176.23 141.30,176.30 141.70,176.05 142.10,176.04 142.50,176.82 142.90,175.88 143.30,175.92 143.70,175.98 144.10,176.58 144.50,176.84 144.90,176.30 145.30,175.98 145.70,176.06 146.10,176.50 146.50,175.90 146.90,176.60 147.30,176.58 147.70,176.17 148.10,176.33 148.50,176.35 148.90,176.59 149.30,175.80 149.70,176.46 150.10,176.00 150.50,175.91 150.90,176.20 151.30,176.14 151.70,175.94 152.10,175.79 152.50,176.01 152.90,176.76 153.30,176.83 153.70,176.50 154.10,176.86 154.50,177.14 154.90,177.64 155.30,178.13 155.70,178.45 156.10,178.70 156.50,178.41 156.90,177.97 157.30,177.49 157.70,177.24 158.10,176.79 158.50,176.54 158.90,176.05 159.30,175.63 159.70,175.29 160.10,174.88 160.50,174.65 160.90,174.57 161.30,174.58 161.70,174.47 162.10,174.43 162.50,174.00 162.90,174.06 163.30,174.05 163.70,174.10 164.10,174.03 164.50,174.02 164.90,174.15 165.30,174.08 165.70,173.92 166.10,174.20 166.50,174.15 166.90,173.97 167.30,174.12 167.70,173.94 168.10,174.15 168.50,173.98 168.90,173.91 169.30,173.95 169.70,173.90 170.10,174.01 170.50,174.00 170.90,173.98 171.30,173.90 171.70,173.52 172.10,173.96 172.50,173.72 172.90,173.97 173.30,174.07 173.70,173.96 174.10,173.87 174.50,173.89 174.90,173.89 175.30,173.84 175.70,173.79 176.10,173.66 176.50,173.84 176.90,173.60 177.30,173.64 177.70,173.17 178.10,172.81 178.50,172.38 178.90,171.52 179.30,170.45 179.70,169.19 180.10,167.70 180.50,166.32 180.90,165.27 181.30,163.65 181.70,162.30 182.10,161.19 182.50,159.81 182.90,158.40 183.30,156.95 183.70,155.90 184.10,154.23 184.50,152.84 184.90,151.33 185.30,149.71 185.70,148.25 186.10,147.02 186.50,145.55 186.90,144.00 187.30,142.41 187.70,140.90 188.10,139.59 188.50,137.95 188.90,136.79 189.30,135.35 189.70,134.10 190.10,132.43 190.50,131.06 190.90,129.85 191.30,128.31 191.70,127.68 192.10,126.69 192.50,125.82 192.90,124.73 193.30,123.68 193.70,123.04 194.10,122.51 194.50,122.03 194.90,121.08 195.30,120.57 195.70,119.85 196.10,119.80 196.50,119.30 196.90,118.77 197.30,118.04 197.70,117.79 198.10,117.28 198.50,116.95 198.90,116.56 199.30,116.31 199.70,115.82 200.10,115.66 200.50,115.21 200.90,114.76 201.30,114.41 201.70,113.97 202.10,113.79 202.50,113.23 202.90,112.94 203.30,112.43 203.70,111.83 204.10,111.83 204.50,111.07 204.90,110.97 205.30,110.51 205.70,109.71 206.10,109.43 206.50,109.10 206.90,108.63 207.30,108.14 207.70,108.11 208.10,107.50 208.50,107.22 208.90,106.64 209.30,106.38 209.70,105.74 210.10,105.48 210.50,105.21 210.90,104.68 211.30,104.15 211.70,103.59 212.10,103.47 212.50,103.10 212.90,102.54 213.30,102.08 213.70,102.08 214.10,102.24 214.50,101.24 214.90,101.09 215.30,100.78 215.70,99.72 216.10,100.09 216.50,99.56 216.90,99.81 217.30,99.08 217.70,98.63 218.10,98.48 218.50,98.28 218.90,97.78 219.30,97.61 219.70,96.95 220.10,97.00 220.50,97.02 220.90,97.10 221.30,96.47 221.70,96.08 222.10,96.09 222.50,95.77 222.90,95.70 223.30,95.27 223.70,94.65 224.10,94.51 224.50,94.22 224.90,94.01 225.30,93.72 225.70,93.14 226.10,92.48 226.50,92.76 226.90,92.14 227.30,92.66 227.70,92.46 228.10,91.72 228.50,92.35 228.90,92.24 229.30,91.80 229.70,92.18 230.10,92.08 230.50,90.83 230.90,91.44 231.30,91.06 231.70,90.88 232.10,90.89 232.50,90.16 232.90,90.06 233.30,89.83 233.70,89.71 234.10,89.80 234.50,89.18 234.90,89.17 235.30,89.59 235.70,89.22 236.10,89.23 236.50,88.29 236.90,88.53 237.30,88.46 237.70,88.52 238.10,88.16 238.50,88.54 238.90,88.04 239.30,87.92 239.70,87.77 240.10,87.86 240.50,87.30 240.90,87.71 241.30,87.32 241.70,87.07 242.10,86.88 242.50,86.93 242.90,86.99 243.30,86.84 243.70,86.52 244.10,86.58 244.50,86.19 244.90,86.47 245.30,85.90 245.70,85.06 246.10,86.14 246.50,85.59 246.90,85.02 247.30,85.24 247.70,84.88 248.10,85.81 248.50,85.14 248.90,84.30 249.30,84.93 249.70,84.49 250.10,85.19 250.50,84.04 250.90,83.52 251.30,84.22 251.70,83.96 252.10,83.83 252.50,83.13 252.90,83.94 253.30,84.28 253.70,82.94 254.10,83.92 254.50,83.22 254.90,84.15 255.30,83.38 255.70,83.07 256.10,83.43 256.50,83.13 256.90,82.65 257.30,83.01 257.70,82.49 258.10,81.95 258.50,83.19 258.90,82.25 259.30,82.06 259.70,82.29 260.10,81.53 260.50,81.50 260.90,81.70 261.30,81.59 261.70,81.70 262.10,81.97 262.50,81.30 262.90,81.52 263.30,81.45 263.70,80.75 264.10,81.10 264.50,80.58 264.90,81.17 265.30,80.85 265.70,80.59 266.10,80.01 266.50,80.46 266.90,80.08 267.30,80.53 267.70,80.17 268.10,79.87 268.50,80.41 268.90,80.27 269.30,79.74 269.70,80.29 270.10,79.71 270.50,79.64 270.90,79.73 271.30,79.35 271.70,79.40 272.10,79.44 272.50,79.99 272.90,79.95 273.30,79.30 273.70,79.91 274.10,79.30 274.50,79.41 274.90,79.56 275.30,79.31 275.70,80.02 276.10,79.23 276.50,78.69 276.90,79.53 277.30,78.89 277.70,78.89 278.10,77.92 278.50,79.28 278.90,79.18 279.30,79.14 279.70,79.17 280.10,79.39 280.50,78.75 280.90,79.07 281.30,78.46 281.70,78.57 282.10,79.03 282.50,78.78 282.90,78.15 283.30,78.71 283.70,78.50 284.10,78.25 284.50,78.66 284.90,78.34 285.30,77.91 285.70,78.04 286.10,79.03 286.50,77.85 286.90,78.43 287.30,78.54 287.70,78.53 288.10,77.85 288.50,78.14 288.90,78.28 289.30,78.48 289.70,77.95 290.10,77.74 290.50,78.48 290.90,78.49 291.30,78.20 291.70,77.83 292.10,78.16 292.50,78.03 292.90,78.26 293.30,77.51 293.70,77.96" fill="none" stroke="#ff0000" stroke-width="2.0" stroke-linejoin="round" />
<polyline points="52.50,115.74 53.00,115.41 53.50,115.88 54.00,115.81 54.50,115.66 55.00,115.94 55.50,115.30 56.00,115.78 56.50,115.95 57.00,115.90 57.50,116.18 58.00,115.38 58.50,115.27 59.00,115.88 59.50,115.96 60.00,116.54 60.50,116.02 61.00,115.49 61.50,116.08 62.00,115.50 62.50,115.28 63.00,116.71 63.50,115.91 64.00,116.05 64.50,116.00 65.00,116.43 65.50,115.90 66.00,116.23 66.50,115.44 67.00,115.31 67.50,116.30 68.00,116.32 68.50,115.98 69.00,115.88 69.50,115.86 70.00,115.56 70.50,116.34 71.00,116.03 71.50,115.98 72.00,115.93 72.50,116.17 73.00,115.98 73.50,116.06 74.00,115.39 74.50,115.98 75.00,116.57 75.50,115.62 76.00,115.75 76.50,116.11 77.00,116.14 77.50,116.02 78.00,115.23 78.50,115.98 79.00,115.39 79.50,115.51 80.00,115.99 80.50,115.70 81.00,116.08 81.50,116.90 82.00,116.07 82.50,116.05 83.00,115.49 83.50,115.57 84.00,115.43 84.50,115.61 85.00,115.42 85.50,115.57 86.00,115.73 86.50,115.45 87.00,115.30 87.50,115.32 88.00,115.96 88.50,115.82 89.00,116.16 89.50,116.17 90.00,115.68 90.50,116.03 91.00,115.30 91.50,116.60 92.00,116.22 92.50,115.72 93.00,115.39 93.50,115.93 94.00,115.15 94.50,115.53 95.00,116.06 95.50,115.83 96.00,115.63 96.50,116.13 97.00,115.44 97.50,115.90 98.00,115.63 98.50,115.50 99.00,115.96 99.50,115.45 100.00,116.47 100.50,115.60 101.00,116.50 101.50,115.42 102.00,116.02 102.50,115.39 103.00,115.34 103.50,115.87 104.00,116.05 104.50,115.37 105.00,116.23 105.50,115.54 106.00,115.87 106.50,115.95 107.00,116.03 107.50,115.20 108.00,116.39 108.50,116.02 109.00,115.68 109.50,115.47 110.00,115.24 110.50,115.36 111.00,116.03 111.50,115.72 112.00,115.44 112.50,115.66 113.00,116.39 113.50,115.73 114.00,115.64 114.50,116.32 115.00,116.01 115.50,115.87 116.00,115.64 116.50,115.31 117.00,115.45 117.50,115.69 118.00,115.78 118.50,115.99 119.00,116.06 119.50,115.94 120.00,115.94 120.50,115.52 121.00,115.12 121.50,115.69 122.00,115.54 122.50,115.65 123.00,115.78 123.50,115.44 124.00,115.49 124.50,115.85 125.00,115.92 125.50,115.66 126.00,116.06 126.50,115.81 127.00,115.53 127.50,115.91 128.00,116.55 128.50,115.66 129.00,116.30 129.50,116.38 130.00,116.42 130.50,115.61 131.00,116.59 131.50,115.92 132.00,115.79 132.50,115.79 133.00,116.07 133.50,115.87 134.00,115.79 134.50,116.29 135.00,115.58 135.50,115.46 136.00,116.10 136.50,116.06 137.00,116.19 137.50,115.43 138.00,116.18 138.50,115.96 139.00,116.40 139.50,115.34 140.00,115.85 140.50,115.67 141.00,115.20 141.50,115.50 142.00,116.14 142.50,115.58 143.00,115.48 143.50,116.03 144.00,116.07 144.50,116.06 145.00,115.43 145.50,115.68 146.00,116.06 146.50,115.46 147.00,115.42 147.50,115.97 148.00,116.22 148.50,115.26 149.00,114.75 149.50,115.14 150.00,115.29 150.50,115.59 151.00,115.85 151.50,115.58 152.00,115.38 152.50,115.67 153.00,115.27 153.50,115.59 154.00,115.65 154.50,116.94 155.00,119.85 155.50,123.02 156.00,125.62 156.50,124.56 157.00,123.60 157.50,123.28 158.00,123.73 158.50,124.42 159.00,124.66 159.50,125.04 160.00,125.40 160.50,125.59 161.00,125.92 161.50,126.07 162.00,126.25 162.50,125.69 163.00,125.65 163.50,125.24 164.00,124.81 164.50,124.12 165.00,123.84 165.50,123.72 166.00,123.33 166.50,122.67 167.00,122.26 167.50,121.60 168.00,121.12 168.50,120.59 169.00,120.51 169.50,120.19 170.00,119.88 170.50,119.64 171.00,119.48 171.50,119.12 172.00,118.61 172.50,118.66 173.00,118.11 173.50,117.73 174.00,117.45 174.50,116.77 175.00,115.99 175.50,115.02 176.00,113.71 176.50,112.72 177.00,111.02 177.50,109.99 178.00,107.98 178.50,106.81 179.00,105.58 179.50,104.91 180.00,105.30 180.50,105.64 181.00,106.51 181.50,107.51 182.00,108.10 182.50,108.90 183.00,109.41 183.50,110.33 184.00,111.03 184.50,111.99 185.00,113.10 185.50,114.16 186.00,115.46 186.50,117.05 187.00,118.48 187.50,120.09 188.00,122.06 188.50,123.25 189.00,124.66 189.50,126.23 190.00,127.03 190.50,128.90 191.00,130.67 191.50,131.82 192.00,133.89 192.50,134.54 193.00,136.57 193.50,138.05 194.00,139.51 194.50,140.90 195.00,142.55 195.50,143.67 196.00,145.24 196.50,146.26 197.00,147.70 197.50,149.10 198.00,149.96 198.50,151.26 199.00,152.52 199.50,153.13 200.00,154.34 200.50,155.05 201.00,155.57 201.50,156.54 202.00,157.18 202.50,157.95 203.00,158.81 203.50,159.23 204.00,160.02 204.50,160.30 205.00,161.10 205.50,161.47 206.00,162.06 206.50,162.14 207.00,162.46 207.50,162.66 208.00,163.24 208.50,163.60 209.00,164.10 209.50,164.27 210.00,164.41 210.50,164.64 211.00,164.95 211.50,165.04 212.00,165.43 212.50,165.50 213.00,165.36 213.50,165.53 214.00,166.02 214.50,166.00 215.00,166.06 215.50,166.45 216.00,166.34 216.50,166.39 217.00,166.41 217.50,166.19 218.00,166.71 218.50,166.40 219.00,166.55 219.50,166.56 220.00,166.86 220.50,166.76 221.00,166.82 221.50,166.57 222.00,166.88 222.50,166.62 223.00,166.92 223.50,166.91 224.00,166.82 224.50,167.17 225.00,166.88 225.50,166.87 226.00,166.78 226.50,166.70 227.00,166.88 227.50,166.89 228.00,166.44 228.50,166.85 229.00,166.73 229.50,166.79 230.00,166.68 230.50,166.32 231.00,166.28 231.50,166.77 232.00,166.43 232.50,166.07 233.00,166.34 233.50,166.16 234.00,165.83 234.50,165.69 235.00,165.76 235.50,166.06 236.00,165.94 236.50,165.85 237.00,165.90 237.50,165.91 238.00,165.34 238.50,165.63 239.00,165.47 239.50,165.34 240.00,165.42 240.50,165.45 241.00,165.36 241.50,165.08 242.00,165.21 242.50,165.65 243.00,164.99 243.50,164.84 244.00,165.20 244.50,165.24 245.00,165.19 245.50,164.85 246.00,165.25 246.50,164.87 247.00,164.77 247.50,164.85 248.00,164.93 248.50,165.07 249.00,165.03 249.50,164.87 250.00,165.04 250.50,164.84 251.00,164.98 251.50,164.49 252.00,164.43 252.50,164.88 253.00,164.41 253.50,164.61 254.00,164.63 254.50,164.52 255.00,164.51 255.50,164.87 256.00,164.02 256.50,164.71 257.00,164.98 257.50,164.48 258.00,164.45 258.50,164.58 259.00,164.79 259.50,164.12 260.00,164.37 260.50,164.29 261.00,164.42 261.50,164.31 262.00,164.39 262.50,164.13 263.00,164.21 263.50,164.03 264.00,164.01 264.50,164.09 265.00,164.07 265.50,163.82 266.00,164.39 266.50,164.00 267.00,163.69 267.50,164.22 268.00,163.79 268.50,164.05 269.00,163.91 269.50,163.95 270.00,163.92 270.50,163.73 271.00,163.85 271.50,164.27 272.00,163.29 272.50,163.79 273.00,163.85 273.50,163.50 274.00,163.40 274.50,164.19 275.00,163.59 275.50,164.13 276.00,163.76 276.50,163.63 277.00,163.70 277.50,163.72 278.00,163.83 278.50,163.63 279.00,163.54 279.50,163.53 280.00,163.79 280.50,163.64 281.00,163.19 281.50,163.26 282.00,163.47 282.50,163.22 283.00,163.26 283.50,163.10 284.00,163.25 284.50,163.39 285.00,163.50 285.50,163.25 286.00,163.72 286.50,163.19 287.00,163.96 287.50,163.41 288.00,163.26 288.50,163.00 289.00,162.42 289.50,163.05 290.00,163.11 290.50,163.51 291.00,162.68 291.50,163.47 292.00,162.92 292.50,163.14 293.00,162.31 293.50,162.95 294.00,162.81" fill="none" stroke="#0000ff" stroke-width="2.0" stroke-linejoin="round" />
<line x1="178.3" y1="67.5" x2="178.3" y2="200" stroke="#000" stroke-width="1" stroke-dasharray="3.1 3.15"/>
</g>
<!-- legend -->
<rect x="60.3" y="16.3" width="33.8" height="51.6" rx="1.5" fill="#fff" stroke="#8a8a8a" stroke-width="1"/>
<line x1="62.4" y1="28" x2="72.6" y2="28" stroke="#000" stroke-width="1.8"/>
<line x1="62.4" y1="45.6" x2="72.6" y2="45.6" stroke="#ff0000" stroke-width="1.8"/>
<line x1="62.4" y1="59.8" x2="72.6" y2="59.8" stroke="#0000ff" stroke-width="1.8"/>
<text x="75.3" y="29.8" class="lg">H<tspan dy="2.6" font-size="7.5">2</tspan></text>
<text x="75.3" y="47.6" class="lg">HD</text>
<text x="75.3" y="61.4" class="lg">D<tspan dy="2.6" font-size="7.5">2</tspan></text>
<!-- frame -->
<rect x="52.0" y="9.6" width="243.0" height="190.6" fill="none" stroke="#000" stroke-width="1.4"/>
<line x1="52.00" y1="200.20" x2="52.00" y2="196.20" stroke="#000" stroke-width="1.2"/>
<line x1="52.00" y1="9.60" x2="52.00" y2="13.60" stroke="#000" stroke-width="1.2"/>
<line x1="76.30" y1="200.20" x2="76.30" y2="197.70" stroke="#000" stroke-width="1.2"/>
<line x1="76.30" y1="9.60" x2="76.30" y2="12.10" stroke="#000" stroke-width="1.2"/>
<line x1="100.60" y1="200.20" x2="100.60" y2="196.20" stroke="#000" stroke-width="1.2"/>
<line x1="100.60" y1="9.60" x2="100.60" y2="13.60" stroke="#000" stroke-width="1.2"/>
<line x1="124.90" y1="200.20" x2="124.90" y2="197.70" stroke="#000" stroke-width="1.2"/>
<line x1="124.90" y1="9.60" x2="124.90" y2="12.10" stroke="#000" stroke-width="1.2"/>
<line x1="149.20" y1="200.20" x2="149.20" y2="196.20" stroke="#000" stroke-width="1.2"/>
<line x1="149.20" y1="9.60" x2="149.20" y2="13.60" stroke="#000" stroke-width="1.2"/>
<line x1="173.50" y1="200.20" x2="173.50" y2="197.70" stroke="#000" stroke-width="1.2"/>
<line x1="173.50" y1="9.60" x2="173.50" y2="12.10" stroke="#000" stroke-width="1.2"/>
<line x1="197.80" y1="200.20" x2="197.80" y2="196.20" stroke="#000" stroke-width="1.2"/>
<line x1="197.80" y1="9.60" x2="197.80" y2="13.60" stroke="#000" stroke-width="1.2"/>
<line x1="222.10" y1="200.20" x2="222.10" y2="197.70" stroke="#000" stroke-width="1.2"/>
<line x1="222.10" y1="9.60" x2="222.10" y2="12.10" stroke="#000" stroke-width="1.2"/>
<line x1="246.40" y1="200.20" x2="246.40" y2="196.20" stroke="#000" stroke-width="1.2"/>
<line x1="246.40" y1="9.60" x2="246.40" y2="13.60" stroke="#000" stroke-width="1.2"/>
<line x1="270.70" y1="200.20" x2="270.70" y2="197.70" stroke="#000" stroke-width="1.2"/>
<line x1="270.70" y1="9.60" x2="270.70" y2="12.10" stroke="#000" stroke-width="1.2"/>
<line x1="295.00" y1="200.20" x2="295.00" y2="196.20" stroke="#000" stroke-width="1.2"/>
<line x1="295.00" y1="9.60" x2="295.00" y2="13.60" stroke="#000" stroke-width="1.2"/>
<line x1="52.00" y1="200.20" x2="56.00" y2="200.20" stroke="#000" stroke-width="1.2"/>
<line x1="52.00" y1="181.14" x2="54.50" y2="181.14" stroke="#000" stroke-width="1.2"/>
<line x1="52.00" y1="162.08" x2="56.00" y2="162.08" stroke="#000" stroke-width="1.2"/>
<line x1="52.00" y1="143.02" x2="54.50" y2="143.02" stroke="#000" stroke-width="1.2"/>
<line x1="52.00" y1="123.96" x2="56.00" y2="123.96" stroke="#000" stroke-width="1.2"/>
<line x1="52.00" y1="104.90" x2="54.50" y2="104.90" stroke="#000" stroke-width="1.2"/>
<line x1="52.00" y1="85.84" x2="56.00" y2="85.84" stroke="#000" stroke-width="1.2"/>
<line x1="52.00" y1="66.78" x2="54.50" y2="66.78" stroke="#000" stroke-width="1.2"/>
<line x1="52.00" y1="47.72" x2="56.00" y2="47.72" stroke="#000" stroke-width="1.2"/>
<line x1="52.00" y1="28.66" x2="54.50" y2="28.66" stroke="#000" stroke-width="1.2"/>
<line x1="52.00" y1="9.60" x2="56.00" y2="9.60" stroke="#000" stroke-width="1.2"/>
<line x1="295.00" y1="200.20" x2="291.00" y2="200.20" stroke="#000" stroke-width="1.2"/>
<line x1="295.00" y1="179.02" x2="292.50" y2="179.02" stroke="#000" stroke-width="1.2"/>
<line x1="295.00" y1="157.84" x2="291.00" y2="157.84" stroke="#000" stroke-width="1.2"/>
<line x1="295.00" y1="136.67" x2="292.50" y2="136.67" stroke="#000" stroke-width="1.2"/>
<line x1="295.00" y1="115.49" x2="291.00" y2="115.49" stroke="#000" stroke-width="1.2"/>
<line x1="295.00" y1="94.31" x2="292.50" y2="94.31" stroke="#000" stroke-width="1.2"/>
<line x1="295.00" y1="73.13" x2="291.00" y2="73.13" stroke="#000" stroke-width="1.2"/>
<line x1="295.00" y1="51.96" x2="292.50" y2="51.96" stroke="#000" stroke-width="1.2"/>
<line x1="295.00" y1="30.78" x2="291.00" y2="30.78" stroke="#000" stroke-width="1.2"/>
<line x1="295.00" y1="9.60" x2="292.50" y2="9.60" stroke="#000" stroke-width="1.2"/>
<text x="52.00" y="216.5" text-anchor="middle" class="tk">0</text>
<text x="100.60" y="216.5" text-anchor="middle" class="tk">100</text>
<text x="149.20" y="216.5" text-anchor="middle" class="tk">200</text>
<text x="197.80" y="216.5" text-anchor="middle" class="tk">300</text>
<text x="246.40" y="216.5" text-anchor="middle" class="tk">400</text>
<text x="295.00" y="216.5" text-anchor="middle" class="tk">500</text>
<text x="47" y="205.00" text-anchor="end" class="tk">0.0</text>
<text x="47" y="166.88" text-anchor="end" class="tk">0.5</text>
<text x="47" y="128.76" text-anchor="end" class="tk">1.0</text>
<text x="47" y="90.64" text-anchor="end" class="tk">1.5</text>
<text x="47" y="52.52" text-anchor="end" class="tk">2.0</text>
<text x="47" y="14.40" text-anchor="end" class="tk">2.5</text>
<text x="298.4" y="204.20" text-anchor="start" class="tk">0</text>
<text x="298.4" y="161.84" text-anchor="start" class="tk">200</text>
<text x="298.4" y="119.49" text-anchor="start" class="tk">400</text>
<text x="298.4" y="77.13" text-anchor="start" class="tk">600</text>
<text x="298.4" y="34.78" text-anchor="start" class="tk">800</text>
<!-- annotations -->
<text x="164.6" y="40.5" class="an">Temperature</text>
<line x1="228" y1="38" x2="244.5" y2="38" stroke="#555" stroke-width="0.8" marker-end="url(#ah)"/>
<text x="97.6" y="88.2" class="an">H<tspan dy="2.4" font-size="7">2</tspan><tspan dy="-2.5"> introduced</tspan></text>
<line x1="166.2" y1="85.5" x2="177.0" y2="91.1" stroke="#000" stroke-width="0.8" marker-end="url(#ah)"/>
<text x="66.5" y="158.8" class="an">Plasma instability</text>
<line x1="151" y1="150" x2="161.6" y2="132.3" stroke="#000" stroke-width="0.8" marker-end="url(#ah)"/>
<line x1="152" y1="157.8" x2="160.2" y2="169.4" stroke="#000" stroke-width="0.8" marker-end="url(#ah)"/>
<!-- axis titles -->
<text x="176.4" y="237.5" text-anchor="middle" class="ax">Time (s)</text>
<text transform="translate(18.2,109.1) rotate(-90)" text-anchor="middle" class="ax">PDP flux (×10<tspan dy="-7" font-size="9">18</tspan><tspan dy="7"> m</tspan><tspan dy="-7" font-size="9">-2</tspan><tspan dy="7"> s</tspan><tspan dy="-7" font-size="9">-1</tspan><tspan dy="7">)</tspan></text>
<text transform="translate(335,108.9) rotate(-90)" text-anchor="middle" class="ax" style="font-size:15.8px">Temperature (K)</text>
</svg>
</body></html>
